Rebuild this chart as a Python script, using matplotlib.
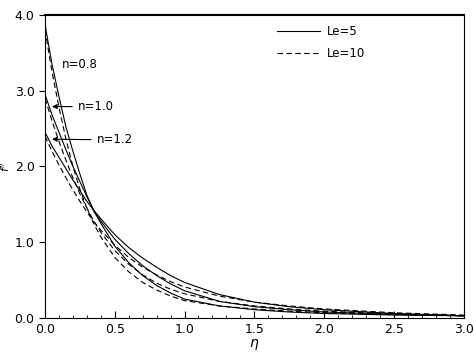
import numpy as np
import matplotlib.pyplot as plt

eta = [0, 0.05, 0.1, 0.15, 0.2, 0.25, 0.3, 0.35, 0.4, 0.5, 0.6, 0.7, 0.8, 0.9,
       1.0, 1.25, 1.5, 1.75, 2.0, 2.5, 3.0]

# Le = 5 (solid)
le5_n08 = [3.87, 3.35, 2.92, 2.52, 2.20, 1.90, 1.62, 1.41, 1.25, 0.95, 0.73, 0.56,
           0.43, 0.33, 0.25, 0.16, 0.11, 0.08, 0.06, 0.04, 0.03]
le5_n10 = [2.95, 2.68, 2.45, 2.22, 2.00, 1.80, 1.60, 1.42, 1.28, 1.04, 0.85, 0.69,
           0.56, 0.45, 0.36, 0.22, 0.15, 0.11, 0.08, 0.05, 0.03]
le5_n12 = [2.45, 2.27, 2.12, 1.97, 1.82, 1.68, 1.54, 1.42, 1.31, 1.10, 0.93, 0.79,
           0.67, 0.56, 0.47, 0.31, 0.21, 0.15, 0.11, 0.06, 0.03]

# Le = 10 (dashed)
le10_n08 = [3.80, 3.25, 2.78, 2.36, 2.00, 1.70, 1.45, 1.24, 1.07, 0.80, 0.61, 0.47,
            0.37, 0.29, 0.23, 0.16, 0.12, 0.09, 0.07, 0.045, 0.03]
le10_n10 = [2.90, 2.60, 2.33, 2.08, 1.85, 1.64, 1.45, 1.28, 1.13, 0.89, 0.71, 0.57,
            0.46, 0.38, 0.32, 0.22, 0.16, 0.12, 0.09, 0.055, 0.03]
le10_n12 = [2.40, 2.20, 2.02, 1.85, 1.69, 1.54, 1.40, 1.27, 1.16, 0.96, 0.80, 0.67,
            0.57, 0.48, 0.41, 0.29, 0.21, 0.16, 0.12, 0.07, 0.04]

plt.rcParams['font.family'] = 'DejaVu Sans'
fig = plt.figure(figsize=(4.74, 3.53), dpi=100)
ax = fig.add_axes([0.095, 0.099, 0.883, 0.859])

for i, y in enumerate([le5_n08, le5_n10, le5_n12]):
    ax.plot(eta, y, color='black', lw=0.8, label='Le=5' if i == 0 else None)
for i, y in enumerate([le10_n08, le10_n10, le10_n12]):
    ax.plot(eta, y, color='black', lw=0.8, ls=(0, (5, 3)),
            label='Le=10' if i == 0 else None)

ax.text(0.12, 3.34, 'n=0.8', fontsize=8.5, va='center')
ax.annotate('n=1.0', xy=(0.03, 2.79), xytext=(0.235, 2.79), fontsize=8.5, va='center',
            arrowprops=dict(arrowstyle='-|>', color='black', lw=0.8, mutation_scale=7))
ax.annotate('n=1.2', xy=(0.03, 2.36), xytext=(0.37, 2.35), fontsize=8.5, va='center',
            arrowprops=dict(arrowstyle='-|>', color='black', lw=0.8, mutation_scale=7))

ax.set_xlim(0, 3)
ax.set_ylim(0, 4)
ax.set_xticks(np.arange(0, 3.01, 0.5))
ax.set_xticks(np.arange(0, 3.01, 0.1), minor=True)
ax.set_yticks(np.arange(0, 4.01, 1.0))
ax.xaxis.set_major_formatter(plt.FormatStrFormatter('%.1f'))
ax.yaxis.set_major_formatter(plt.FormatStrFormatter('%.1f'))
ax.tick_params(axis='x', direction='in', length=5, labelsize=9, top=False)
ax.tick_params(axis='x', which='minor', direction='in', length=2.5)
ax.tick_params(axis='y', direction='out', length=4, labelsize=9, right=False)
for s in ax.spines.values():
    s.set_linewidth(0.8)
ax.spines['top'].set_linewidth(1.5)

ax.set_xlabel(r'$\eta$', fontsize=10, labelpad=1)
ax.set_ylabel(r"$f''$", fontsize=8)
ax.yaxis.set_label_coords(-0.078, 0.5)

ax.legend(loc='upper left', bbox_to_anchor=(0.53, 1.0), frameon=False, fontsize=8.5,
          handlelength=3.6, labelspacing=0.7, handletextpad=0.6)

fig.savefig('out.png', dpi=100)
